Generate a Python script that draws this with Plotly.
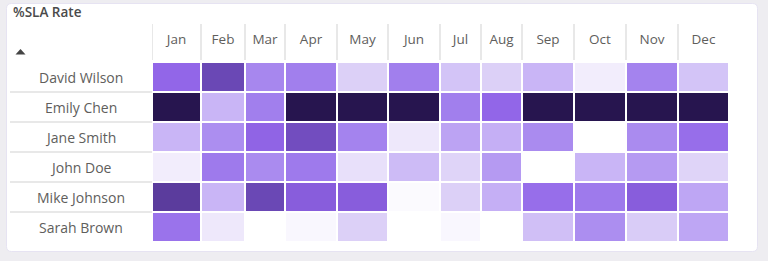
import plotly.graph_objects as go

# ---- data ----
title_text = "%SLA Rate"
months = ["Jan", "Feb", "Mar", "Apr", "May", "Jun", "Jul", "Aug", "Sep", "Oct", "Nov", "Dec"]
agents = ["David Wilson", "Emily Chen", "Jane Smith", "John Doe", "Mike Johnson", "Sarah Brown"]

david_wilson = [61, 80, 49, 51, 22, 51, 28, 22, 35, 7, 50, 28]
emily_chen = [100, 35, 51, 100, 100, 100, 51, 61, 100, 100, 100, 100]
jane_smith = [35, 47, 62, 76, 50, 9, 41, 37, 48, 0, 48, 58]
john_doe = [7, 53, 48, 53, 13, 32, 20, 44, 0, 35, 44, 20]
mike_johnson = [88, 35, 80, 65, 65, 2, 22, 37, 58, 53, 65, 40]
sarah_brown = [56, 9, 0, 3, 22, 0, 3, 0, 30, 47, 24, 40]

# ---- layout / style (pixels) ----
W, H = 768, 261
col_widths = [49, 44, 40, 52, 51, 52, 41, 41, 52, 52, 52, 51]
grid_left, grid_top, grid_bottom = 152, 62, 242
grid_w = sum(col_widths)
grid_h = grid_bottom - grid_top

edges = [0]
for w in col_widths:
    edges.append(edges[-1] + w)
centers = [(edges[i] + edges[i + 1]) / 2 for i in range(len(col_widths))]


def px_x(px):
    return (px - grid_left) / grid_w


def px_y(py):
    return (grid_bottom - py) / grid_h


colorscale = [
    [0.00, "#ffffff"],
    [0.10, "#ece5fb"],
    [0.22, "#dcd0f7"],
    [0.35, "#c9b5f6"],
    [0.44, "#b59af2"],
    [0.51, "#a17fed"],
    [0.61, "#9266e8"],
    [0.66, "#865bd9"],
    [0.80, "#6a48b5"],
    [0.88, "#5b3c9d"],
    [1.00, "#27154f"],
]

z = [david_wilson, emily_chen, jane_smith, john_doe, mike_johnson, sarah_brown]

fig = go.Figure(
    go.Heatmap(
        z=z,
        x=edges,
        y=agents,
        zmin=0,
        zmax=100,
        colorscale=colorscale,
        showscale=False,
        xgap=2,
        ygap=2,
        hovertemplate="%{y}<br>%{x}: %{z}%<extra></extra>",
    )
)

text_color = "#605e5c"
font_family = "Open Sans, Noto Sans, sans-serif"

annotations = []
for name in agents:
    annotations.append(dict(
        x=px_x(80.5), xref="paper", y=name, yref="y", text=name, showarrow=False,
        xanchor="center", yanchor="middle", font=dict(family=font_family, size=14, color=text_color),
    ))
annotations.append(dict(
    x=px_x(11), xref="paper", y=px_y(12), yref="paper", text=title_text, showarrow=False,
    xanchor="left", yanchor="middle", font=dict(family=font_family, size=13.5, color="#4a4a4a", weight=600),
))


def rounded_rect(x0, y0, x1, y1, r):
    X = px_x
    Y = px_y
    return (
        f"M {X(x0 + r)},{Y(y0)} L {X(x1 - r)},{Y(y0)} Q {X(x1)},{Y(y0)} {X(x1)},{Y(y0 + r)} "
        f"L {X(x1)},{Y(y1 - r)} Q {X(x1)},{Y(y1)} {X(x1 - r)},{Y(y1)} "
        f"L {X(x0 + r)},{Y(y1)} Q {X(x0)},{Y(y1)} {X(x0)},{Y(y1 - r)} "
        f"L {X(x0)},{Y(y0 + r)} Q {X(x0)},{Y(y0)} {X(x0 + r)},{Y(y0)} Z"
    )


shapes = [dict(
    type="path", path=rounded_rect(6.5, 3.5, 757.5, 251.5, 5), xref="paper", yref="paper",
    fillcolor="#ffffff", line=dict(color="#e6e3f2", width=1), layer="below",
)]
# sort indicator
shapes.append(dict(
    type="path", xref="paper", yref="paper",
    path=f"M {px_x(15.5)},{px_y(54.5)} L {px_x(25.5)},{px_y(54.5)} L {px_x(20.5)},{px_y(49)} Z",
    fillcolor="#444444", line=dict(width=0), layer="above",
))
# header separators
for e in edges[:-1]:
    shapes.append(dict(
        type="line", xref="x", yref="paper", x0=e, x1=e, y0=px_y(24), y1=px_y(60),
        line=dict(color="#e8e8e8", width=2), layer="above",
    ))
# row separators in label column
for i in range(len(agents) - 1):
    shapes.append(dict(
        type="line", xref="paper", yref="y", x0=px_x(10), x1=0, y0=i + 0.5, y1=i + 0.5,
        line=dict(color="#e8e8e8", width=2), layer="above",
    ))

fig.update_layout(
    width=W, height=H,
    margin=dict(l=grid_left, r=W - grid_left - grid_w, t=grid_top, b=H - grid_bottom, pad=0),
    paper_bgcolor="#eeedf1",
    plot_bgcolor="#e3e1e8",
    showlegend=False,
    annotations=annotations,
    shapes=shapes,
    xaxis=dict(
        range=[0, grid_w], side="top", tickvals=centers, ticktext=months, ticks="",
        showgrid=False, zeroline=False, showline=False, fixedrange=True,
        tickfont=dict(family=font_family, size=13.5, color=text_color), ticklabelstandoff=14,
    ),
    yaxis=dict(
        autorange="reversed", showticklabels=False, ticks="", showgrid=False,
        zeroline=False, showline=False, fixedrange=True,
    ),
)

fig.write_html("out.html")
